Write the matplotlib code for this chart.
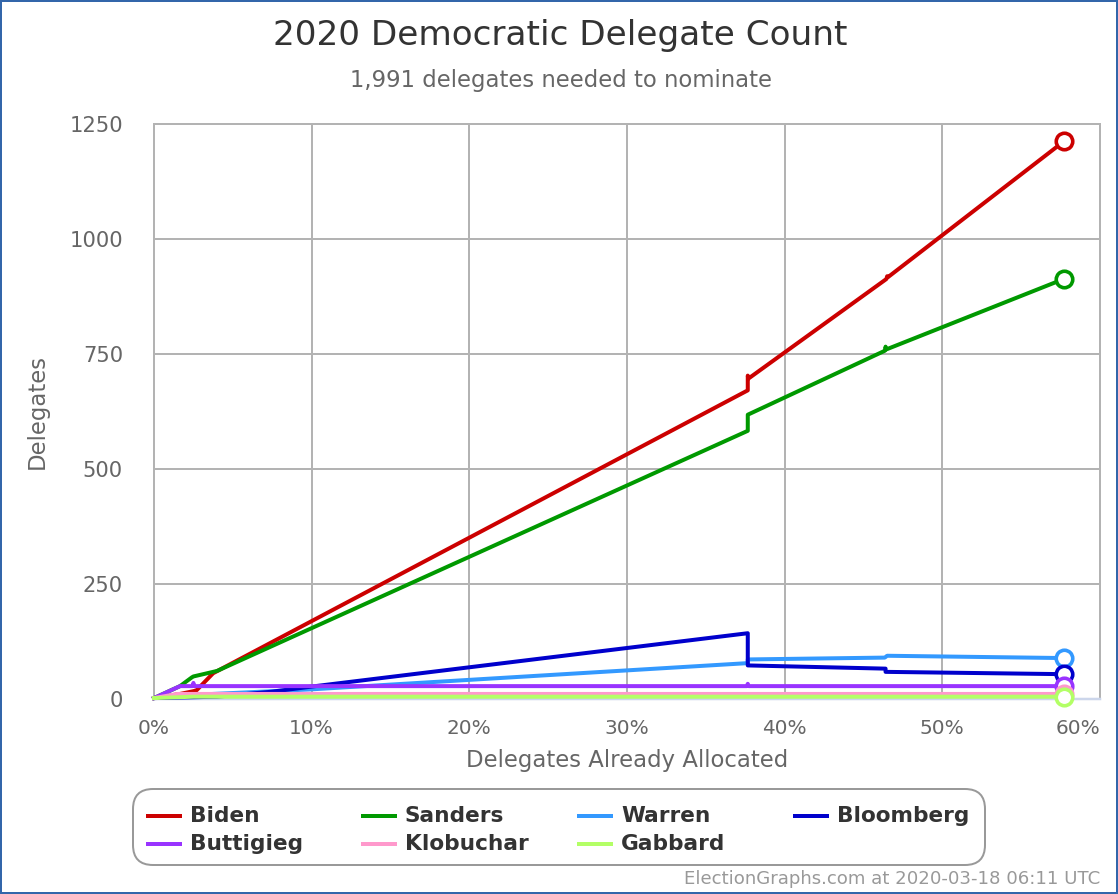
import matplotlib
matplotlib.use("Agg")
import matplotlib.pyplot as plt
from matplotlib.lines import Line2D
from matplotlib.patches import FancyBboxPatch, Rectangle

W, H = 1118, 894
plt.rcParams['font.family'] = ['DejaVu Sans']

names = ["Biden", "Sanders", "Warren", "Bloomberg", "Buttigieg", "Klobuchar", "Gabbard"]
colors = ["#cc0000", "#009900", "#3399ff", "#0000cc", "#9933ff", "#ff99cc", "#b3ff66"]

biden_x = [0, 1.65, 2.5, 2.7, 3.75, 37.66, 37.66, 37.70, 37.72, 46.45, 46.5, 46.55, 57.7]
biden_y = [2, 11, 17, 19, 56, 671, 703, 697, 697, 913, 919, 917, 1212]
sanders_x = [0, 1.65, 2.4, 2.5, 4.0, 37.66, 37.66, 46.35, 46.4, 46.45, 57.7]
sanders_y = [2, 28, 47, 49, 61, 583, 618, 757, 766, 760, 913]
warren_x = [0, 2.5, 10, 37.66, 37.66, 46.35, 46.5, 57.7]
warren_y = [2, 9, 21, 78, 86, 90, 94, 89]
bloomberg_x = [0, 4, 7.5, 10, 37.66, 37.66, 46.4, 46.4, 57.7]
bloomberg_y = [2, 5, 16, 27, 143, 73, 66, 59, 54]
buttigieg_x = [0, 1.65, 2.45, 2.5, 2.55, 37.6, 37.66, 37.72, 57.7]
buttigieg_y = [2, 28, 28, 35, 28, 28, 33, 28, 28]
klobuchar_x = [0, 1.5, 57.7]
klobuchar_y = [2, 11, 11]
gabbard_x = [0, 2.5, 57.7]
gabbard_y = [2, 5, 5]
xs = [biden_x, sanders_x, warren_x, bloomberg_x, buttigieg_x, klobuchar_x, gabbard_x]
ys = [biden_y, sanders_y, warren_y, bloomberg_y, buttigieg_y, klobuchar_y, gabbard_y]

x_ticks = [0, 10, 20, 30, 40, 50, 60]
x_labels = ["0%", "10%", "20%", "30%", "40%", "50%", "60%"]
y_ticks = [0, 250, 500, 750, 1000, 1250]

fig = plt.figure(figsize=(W / 100, H / 100), dpi=100)
px = 0.72  # points per pixel
def fx(v): return v / W
def fy(v): return 1 - v / H

L, R, T, B = 154, 1100, 124, 699
ax = fig.add_axes([fx(L), fy(B), (R - L) / W, (B - T) / H])
ax.set_xlim(0, 60)
ax.set_ylim(0, 1250)
ax.set_xticks(x_ticks)
ax.set_xticklabels(x_labels)
ax.set_yticks(y_ticks)
ax.grid(True, color="#b3b3b3", lw=2 * px, zorder=0)
ax.set_axisbelow(True)
for s in ("left", "right", "top"):
    ax.spines[s].set_color("#b3b3b3")
    ax.spines[s].set_linewidth(2 * px)
ax.spines["bottom"].set_color("#ccd6eb")
ax.spines["bottom"].set_linewidth(2.5 * px)
ax.tick_params(length=0, labelcolor="#666666")
ax.tick_params(axis="y", pad=31 * px, labelsize=21 * px)
ax.tick_params(axis="x", pad=20 * px, labelsize=20 * px)
ax.get_xticklabels()[-1].set_ha("right")

for i, n in enumerate(names):
    ax.plot(xs[i], ys[i], color=colors[i], lw=4 * px, solid_joinstyle="round",
            clip_on=False, zorder=3 + i, label=n)
    ax.plot(xs[i][-1], ys[i][-1], "o", mfc="white", mec=colors[i], ms=16.5 * px, mew=3.6 * px,
            clip_on=False, zorder=3 + i)

fig.text(fx(560), fy(35), "2020 Democratic Delegate Count", fontsize=34.3 * px, color="#333333",
         ha="center", va="center")
fig.text(fx(561), fy(80), "1,991 delegates needed to nominate", fontsize=22.8 * px, color="#666666",
         ha="center", va="center")
fig.text(fx(37), fy(411), "Delegates", fontsize=22.8 * px, color="#666666", rotation=90,
         ha="center", va="center")
fig.text(fx(627), fy(760), "Delegates Already Allocated", fontsize=22.8 * px, color="#666666",
         ha="center", va="center")
fig.text(fx(1100), fy(879), "ElectionGraphs.com at 2020-03-18 06:11 UTC", fontsize=18.1 * px,
         color="#999999", ha="right", va="center")

# Legend box
box = FancyBboxPatch((133 + 20, H - 865 + 20), 852 - 40, 76 - 40,
                     boxstyle="round,pad=20,rounding_size=20", transform=None,
                     fc="white", ec="#999999", lw=2 * px)
fig.add_artist(box)
col_x = [148, 363, 579, 795]
row_y = [816, 844]
order = [(0, 0), (1, 0), (2, 0), (3, 0), (0, 1), (1, 1), (2, 1)]
for i, (c, r) in enumerate(order):
    fig.add_artist(Line2D([fx(col_x[c]), fx(col_x[c] + 32)], [fy(row_y[r]), fy(row_y[r])],
                          color=colors[i], lw=4 * px, transform=fig.transFigure))
    fig.text(fx(col_x[c] + 42), fy(row_y[r]), names[i], fontsize=21.7 * px, fontweight="bold",
             color="#333333", ha="left", va="center")

fig.add_artist(Rectangle((0, 0), 1, 1, transform=fig.transFigure, fc="none", ec="#3366aa", lw=4 * px))
fig.savefig("out.png", dpi=100)
